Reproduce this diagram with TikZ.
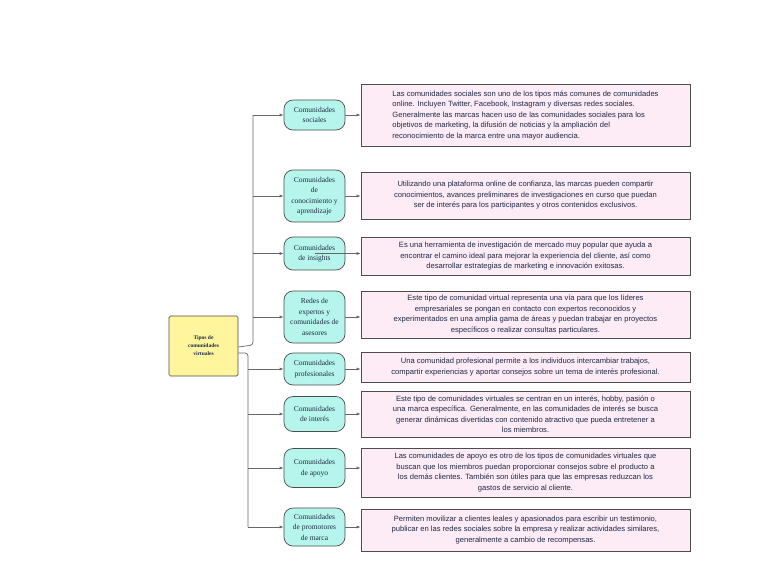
\documentclass[tikz,border=0pt]{standalone}
\usepackage{fontspec}
\setmainfont{Liberation Serif}
\newfontfamily\descfont{Liberation Sans}
\usetikzlibrary{arrows.meta}
\definecolor{cy}{HTML}{B5F5EC}
\definecolor{pk}{HTML}{FDEBF6}
\definecolor{yl}{HTML}{FFF59D}
\definecolor{tx}{HTML}{1F2A44}
\tikzset{
 midbox/.style={draw=black!70,line width=0.7pt,fill=cy,rounded corners=9pt,minimum width=61pt,align=center,font=\fontsize{7.5}{10.5}\selectfont,text=tx,inner sep=1pt},
 descbox/.style={draw=black!70,line width=0.7pt,fill=pk,minimum width=329pt,align=center,font=\descfont\fontsize{7.6}{10.5}\selectfont,text=tx,inner sep=1pt},
 conn/.style={draw=black!60,line width=0.7pt,-{Latex[length=4pt,width=3pt]},rounded corners=2pt},
 bus/.style={draw=black!60,line width=0.7pt,rounded corners=3pt}
}
\begin{document}
\begin{tikzpicture}[x=1pt,y=-1pt]
\useasboundingbox (0,0) rectangle (768,576);
\node[draw=black!70,line width=0.7pt,fill=yl,rounded corners=1.5pt,minimum width=69pt,minimum height=60pt,align=center,font=\bfseries\fontsize{5.5}{8}\selectfont,text=tx] (root) at (203.5,346) {\textsc{Tipos de}\\\textsc{comunidades}\\\textsc{virtuales}};
% mid nodes
\node[midbox,minimum height=30pt] (m1) at (314.5,115) {Comunidades\\sociales};
\node[midbox,minimum height=52pt] (m2) at (314.5,196) {Comunidades\\de\\conocimiento y\\aprendizaje};
\node[midbox,minimum height=33pt] (m3) at (314.5,253.5) {Comunidades\\de insights};
\node[midbox,minimum height=52pt] (m4) at (314.5,317) {Redes de\\expertos y\\comunidades de\\asesores};
\node[midbox,minimum height=32pt] (m5) at (314.5,369) {Comunidades\\profesionales};
\node[midbox,minimum height=35pt] (m6) at (314.5,414) {Comunidades\\de interés};
\node[midbox,minimum height=39pt] (m7) at (314.5,468) {Comunidades\\de apoyo};
\node[midbox,minimum height=38pt] (m8) at (314.5,527) {Comunidades\\de promotores\\de marca};
% desc
\node[descbox,minimum height=62pt,align=left] (d1) at (525.5,115) {Las comunidades sociales son uno de los tipos más comunes de comunidades\\online. Incluyen Twitter, Facebook, Instagram y diversas redes sociales.\\Generalmente las marcas hacen uso de las comunidades sociales para los\\objetivos de marketing, la difusión de noticias y la ampliación del\\reconocimiento de la marca entre una mayor audiencia.};
\node[descbox,minimum height=47pt] (d2) at (525.5,195.5) {Utilizando una plataforma online de confianza, las marcas pueden compartir\\conocimientos, avances preliminares de investigaciones en curso que puedan\\ser de interés para los participantes y otros contenidos exclusivos.};
\node[descbox,minimum height=38pt] (d3) at (525.5,256) {Es una herramienta de investigación de mercado muy popular que ayuda a\\encontrar el camino ideal para mejorar la experiencia del cliente, así como\\desarrollar estrategias de marketing e innovación exitosas.};
\node[descbox,minimum height=47pt] (d4) at (525.5,314.5) {Este tipo de comunidad virtual representa una vía para que los líderes\\empresariales se pongan en contacto con expertos reconocidos y\\experimentados en una amplia gama de áreas y puedan trabajar en proyectos\\específicos o realizar consultas particulares.};
\node[descbox,minimum height=30pt] (d5) at (525.5,367) {Una comunidad profesional permite a los individuos intercambiar trabajos,\\compartir experiencias y aportar consejos sobre un tema de interés profesional.};
\node[descbox,minimum height=46pt] (d6) at (525.5,414) {Este tipo de comunidades virtuales se centran en un interés, hobby, pasión o\\una marca específica. Generalmente, en las comunidades de interés se busca\\generar dinámicas divertidas con contenido atractivo que pueda entretener a\\los miembros.};
\node[descbox,minimum height=49pt] (d7) at (525.5,472.5) {Las comunidades de apoyo es otro de los tipos de comunidades virtuales que\\buscan que los miembros puedan proporcionar consejos sobre el producto a\\los demás clientes. También son útiles para que las empresas reduzcan los\\gastos de servicio al cliente.};
\node[descbox,minimum height=42pt] (d8) at (525.5,530) {Permiten movilizar a clientes leales y apasionados para escribir un testimonio,\\publicar en las redes sociales sobre la empresa y realizar actividades similares,\\generalmente a cambio de recompensas.};
% bus
\coordinate (bu) at (253,345);
\coordinate (bl) at (253,353);
\draw[bus] ([yshift=-1pt]root.east) -- (bu) -- (253,115);
\draw[bus] ([yshift=-7pt]root.east) -- (248,353) -- (248,527);
\foreach \i in {1,2,3,4}{
  \draw[conn] (253,0 |- m\i.west) -- (m\i.west);
}
\foreach \i in {5,6,7,8}{
  \draw[conn] (248,0 |- m\i.west) -- (m\i.west);
}
\foreach \i in {1,2,4,5,6,7,8}{
  \draw[conn] (m\i.east) -- (d\i.west |- m\i.east);
}
\draw[conn] (m3.center) -- (d3.west |- m3.center);
\end{tikzpicture}
\end{document}
